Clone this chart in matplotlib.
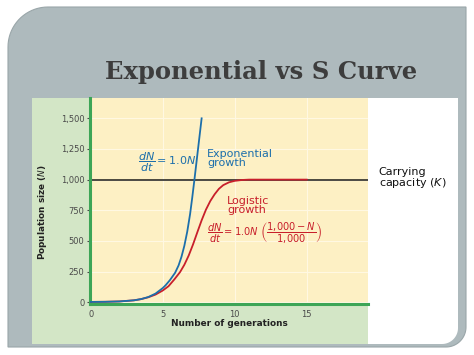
import matplotlib
matplotlib.use("Agg")
import matplotlib.pyplot as plt
import numpy as np
from matplotlib.path import Path
from matplotlib.patches import PathPatch, Rectangle

# values
exp_gen = [0, 1, 2, 3, 3.5, 4, 4.5, 4.8, 5.0, 5.2, 5.5, 5.86, 6.1, 6.3, 6.5, 6.7,
           6.9, 7.05, 7.2, 7.35, 7.5, 7.7]
exp_pop = [2, 3, 6, 15, 25, 42, 70, 97, 115, 138, 180, 240, 300, 370, 460, 575,
           720, 855, 1000, 1150, 1300, 1500]

log_gen = [0, 1, 2, 3, 3.5, 4, 4.5, 5.0, 5.4, 5.8, 6.2, 6.5, 6.8, 7.1, 7.4,
           7.7, 8.0, 8.3, 8.6, 8.9, 9.2, 9.6, 10.0, 10.5, 11, 12, 13, 14, 15]
log_pop = [2, 3, 6, 15, 25, 40, 62, 95, 130, 185, 245, 305, 380, 470, 570,
           668, 755, 825, 880, 925, 955, 978, 990, 997, 1000, 1000, 1000, 1000, 1000]

carrying_capacity = 1000
y_ticks = [0, 250, 500, 750, 1000, 1250, 1500]
x_ticks = [0, 5, 10, 15]

BLUE = "#1c6fab"
RED = "#c81f2b"
GREEN = "#3da556"
YELLOW = "#fdf0c4"
PALE_GREEN = "#d3e6c6"
SLATE = "#aebabd"


def corner_path(x0, y0, x1, y1, r_tl=0, r_br=0, n=20):
    # rectangle in pixel coords (y down) with rounded top-left / bottom-right
    pts = []
    a = np.linspace(np.pi, 1.5 * np.pi, n)
    pts += list(zip(x0 + r_tl + r_tl * np.cos(a), y0 + r_tl + r_tl * np.sin(a)))
    pts += [(x1, y0)]
    a = np.linspace(0, 0.5 * np.pi, n)
    pts += list(zip(x1 - r_br + r_br * np.cos(a), y1 - r_br + r_br * np.sin(a)))
    pts += [(x0, y1), pts[0]]
    return Path(pts)


fig = plt.figure(figsize=(4.74, 3.55), dpi=100)
fig.patch.set_facecolor("white")

# slide background drawn in pixel coordinates
bg = fig.add_axes([0, 0, 1, 1], zorder=0)
bg.set_xlim(0, 474)
bg.set_ylim(355, 0)
bg.axis("off")
bg.add_patch(PathPatch(corner_path(8, 7, 466, 347, r_tl=40, r_br=20),
                       facecolor=SLATE, edgecolor="#9aa6a9", lw=0.8))
bg.add_patch(Rectangle((32, 98), 336, 246, facecolor=PALE_GREEN, edgecolor="none"))
bg.add_patch(PathPatch(corner_path(368, 98, 458, 344, r_br=16),
                       facecolor="white", edgecolor="none"))
bg.text(261, 72, "Exponential vs S Curve", ha="center", va="center",
        fontsize=17.5, fontweight="bold", family="DejaVu Serif", color="#3d3d3d")

ax = fig.add_axes([90 / 474, (355 - 304) / 355, 278 / 474, 206 / 355], zorder=1)
ax.set_facecolor(YELLOW)
ax.set_xlim(-0.05, 19.25)
ax.set_ylim(-15, 1666)

ax.plot(exp_gen, exp_pop, color=BLUE, lw=1.3, zorder=4)
ax.plot(log_gen, log_pop, color=RED, lw=1.3, zorder=3)
ax.axhline(carrying_capacity, color="#1a1a1a", lw=1.1, zorder=2)

ax.set_xticks(x_ticks)
ax.set_yticks(y_ticks)
ax.set_yticklabels([f"{v:,}" for v in y_ticks])
ax.grid(True, color="#fff8e2", lw=0.8)
ax.set_axisbelow(True)
ax.tick_params(labelsize=6, colors="#4a4a4a", length=2, width=0.8, pad=2)
ax.tick_params(axis="x", length=0, pad=4)

for side in ("top", "right"):
    ax.spines[side].set_visible(False)
for side in ("left", "bottom"):
    ax.spines[side].set_color(GREEN)
    ax.spines[side].set_linewidth(2.2)

ax.set_xlabel("Number of generations", fontsize=6.4, fontweight="bold", color="#222222")
ax.xaxis.set_label_coords(0.5, -0.075)
ax.set_ylabel("Population size ($N$)", fontsize=6.4, fontweight="bold", color="#222222")
ax.yaxis.set_label_coords(-0.147, 0.447)

ax.text(5.3, 1140, r"$\dfrac{dN}{dt} = 1.0N$", color=BLUE, fontsize=8,
        ha="center", va="center")
ax.text(8.08, 1250, "Exponential\ngrowth", color=BLUE, fontsize=8,
        ha="left", va="top", linespacing=0.9)
ax.text(9.47, 870, "Logistic\ngrowth", color=RED, fontsize=8,
        ha="left", va="top", linespacing=0.9)
ax.text(8.08, 560, r"$\dfrac{dN}{dt} = 1.0N\ \left(\dfrac{1{,}000 - N}{1{,}000}\right)$",
        color=RED, fontsize=7.1, ha="left", va="center")
ax.text(20.0, 1009, "Carrying\ncapacity ($K$)", color="#111111", fontsize=8,
        ha="left", va="center", linespacing=0.85, clip_on=False)

fig.savefig("out.png", dpi=100)
